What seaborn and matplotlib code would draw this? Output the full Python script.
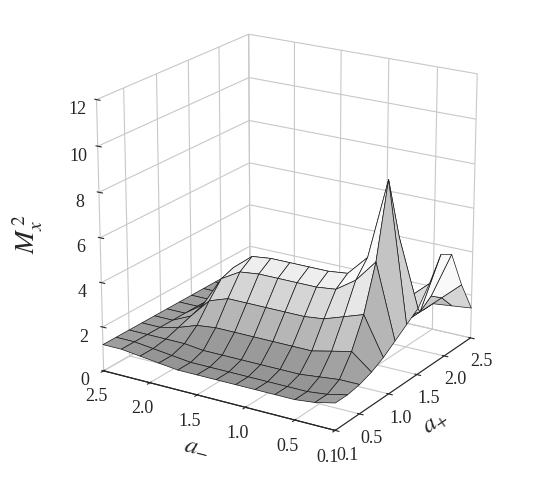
import numpy as np
import matplotlib
matplotlib.use("Agg")
import matplotlib.pyplot as plt
import seaborn as sns

sns.set_style("white")
plt.rcParams["font.family"] = ["Liberation Serif", "DejaVu Serif"]
plt.rcParams["mathtext.fontset"] = "stix"

a_minus = [0.1, 0.3, 0.5, 0.7, 0.9, 1.1, 1.3, 1.5, 1.7, 1.9, 2.1, 2.3, 2.5]
a_plus = [0.1, 0.3, 0.5, 0.7, 0.9, 1.1, 1.3, 1.5, 1.7, 1.9, 2.1, 2.3, 2.5]
# M_x^2 rows: one per a_minus value, columns over a_plus
m2 = [
    [1.2, 1.2, 1.3, 1.5, 1.8, 2.2, 2.6, 3.0, 3.8, 4.8, 4.5, 2.8, 1.4],
    [1.0, 1.0, 1.3, 2.2, 3.5, 5.5, 8.8, 6.0, 3.0, 2.0, 2.4, 2.0, 1.3],
    [0.9, 0.9, 1.2, 2.0, 3.2, 4.5, 5.2, 4.3, 2.6, 1.5, 1.2, 1.2, 1.2],
    [0.9, 0.9, 1.1, 1.8, 2.9, 3.9, 4.3, 3.6, 2.2, 1.4, 1.2, 1.2, 1.2],
    [0.9, 0.9, 1.1, 1.8, 2.8, 3.8, 4.2, 3.5, 2.2, 1.4, 1.2, 1.2, 1.2],
    [0.9, 0.9, 1.1, 1.8, 2.8, 3.8, 4.2, 3.5, 2.2, 1.4, 1.2, 1.2, 1.2],
    [0.9, 0.9, 1.1, 1.8, 2.8, 3.8, 4.2, 3.5, 2.2, 1.4, 1.2, 1.2, 1.2],
    [0.9, 0.9, 1.1, 1.8, 2.8, 3.8, 4.2, 3.5, 2.2, 1.4, 1.2, 1.2, 1.2],
    [0.9, 0.9, 1.1, 1.8, 2.8, 3.7, 4.1, 3.4, 2.1, 1.4, 1.2, 1.2, 1.2],
    [1.0, 1.0, 1.2, 1.7, 2.5, 3.2, 3.4, 2.8, 1.8, 1.3, 1.2, 1.2, 1.2],
    [1.1, 1.1, 1.2, 1.4, 1.6, 1.8, 1.8, 1.5, 1.3, 1.2, 1.2, 1.2, 1.2],
    [1.2, 1.2, 1.2, 1.2, 1.2, 1.2, 1.2, 1.2, 1.2, 1.2, 1.2, 1.2, 1.2],
    [1.2, 1.2, 1.2, 1.2, 1.2, 1.2, 1.2, 1.2, 1.2, 1.2, 1.2, 1.2, 1.2],
]

X, Y = np.meshgrid(a_minus, a_plus, indexing="ij")
Z = np.array(m2)

# grey shading: flat parts mid grey, raised parts lighter
shade = plt.cm.Greys(np.clip(0.5 - (Z - 1.0) * 0.13, 0.05, 0.5))

fig = plt.figure(figsize=(5.5, 4.88), dpi=100)
ax = fig.add_subplot(111, projection="3d")
ax.plot_surface(X, Y, Z, rstride=1, cstride=1, facecolors=shade,
                edgecolor="#1a1a1a", linewidth=0.5, shade=False)

ax.set_xlim(2.5, 0.1)
ax.set_ylim(0.1, 2.5)
ax.set_zlim(0, 12)
ax.set_xticks([2.5, 2.0, 1.5, 1.0, 0.5, 0.1])
ax.set_yticks([0.1, 0.5, 1.0, 1.5, 2.0, 2.5])
ax.set_zticks([0, 2, 4, 6, 8, 10, 12])
ax.set_xticklabels(["2.5", "2.0", "1.5", "1.0", "0.5", "0.1"])
ax.set_yticklabels(["0.1", "0.5", "1.0", "1.5", "2.0", "2.5"])
ax.tick_params(labelsize=13, pad=1)
ax.set_xlabel(r"$a_{-}$", fontsize=18, labelpad=2)
ax.set_ylabel(r"$a_{+}$", fontsize=18, labelpad=2)
fig.text(0.05, 0.52, r"$M_x^{\,2}$", fontsize=20, rotation=90,
         ha="center", va="center")

for axis in (ax.xaxis, ax.yaxis, ax.zaxis):
    axis.set_pane_color((1, 1, 1, 1))
    axis._axinfo["grid"]["color"] = "#c8c8c8"
    axis._axinfo["grid"]["linewidth"] = 0.8
ax.zaxis._axinfo["juggled"] = (1, 0, 2)

ax.view_init(elev=20, azim=-58)
ax.set_box_aspect((1, 1, 1.05), zoom=0.95)
plt.subplots_adjust(left=0.05, right=0.98, bottom=0.03, top=1.03)
plt.savefig("out.png", dpi=100)
